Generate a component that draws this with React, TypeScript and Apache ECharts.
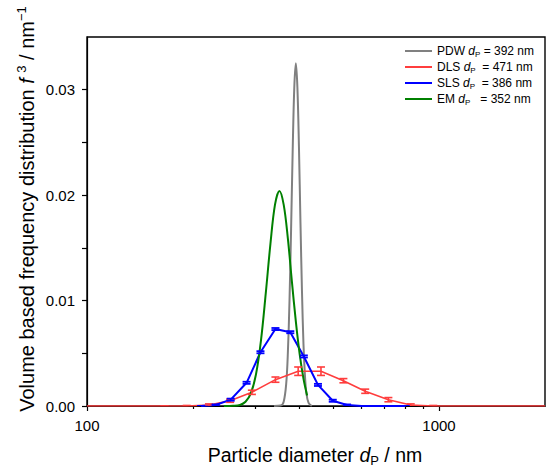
import React, { useEffect, useRef } from "react";
import * as echarts from "echarts";

// Particle diameter (nm) and volume-based frequency (nm^-1)
const pdwD = [340, 355, 362, 368, 372, 376, 380, 384, 388, 392, 396, 400, 404, 408, 412, 416, 420, 426, 435];
const pdwF = [0, 0.00004, 0.0004, 0.0021, 0.005, 0.0099, 0.0168, 0.0243, 0.0302, 0.0325, 0.0302, 0.0246, 0.0174, 0.0109, 0.0059, 0.0029, 0.0012, 0.0003, 0];

const dlsD = [100, 166, 192, 222, 255, 294, 343, 398, 462, 535, 617, 718, 831, 963, 2000];
const dlsF = [0, 0, 0, 0.0001, 0.0005, 0.0013, 0.0025, 0.0033, 0.0033, 0.0024, 0.0014, 0.0006, 0.0001, 0, 0];
const dlsErr = [0, 0, 0.00005, 0.0001, 0.00015, 0.0002, 0.00025, 0.0004, 0.0004, 0.0002, 0.0002, 0.0002, 0.0001, 0.00005, 0];

const slsD = [211, 232, 256, 284, 311, 343, 378, 413, 453, 499, 548, 603, 663, 730, 803];
const slsF = [0, 0.0001, 0.0006, 0.0022, 0.0051, 0.0073, 0.007, 0.0047, 0.002, 0.0005, 0.0001, 0, 0, 0, 0];
const slsErr = [0, 0.00005, 0.0001, 0.0001, 0.0001, 0.0001, 0.0001, 0.0001, 0.0001, 0.0001, 0.00005, 0, 0, 0, 0];

const emD = [245, 260, 272, 282, 292, 302, 312, 322, 332, 342, 352, 362, 372, 382, 392, 402, 412, 422];
const emF = [0, 0.00002, 0.0001, 0.0004, 0.0012, 0.003, 0.0062, 0.0107, 0.0154, 0.0191, 0.0204, 0.0191, 0.0159, 0.0118, 0.008, 0.0049, 0.0026, 0.001];

const xMajorTicks = [100, 1000];
const xMinorTicks = [200, 300, 400, 500, 600, 700, 800, 900];
const yLabels = [0, 0.01, 0.02, 0.03];
const yTicks = [0, 0.005, 0.01, 0.015, 0.02, 0.025, 0.03];

const legendNames = ["PDW", "DLS", "SLS", "EM"];
const legendTails: Record<string, string> = {
  PDW: " = 392 nm",
  DLS: "  = 471 nm",
  SLS: "  = 386 nm",
  EM: "   = 352 nm",
};

const FONT = "'Liberation Sans', Arial, Helvetica, sans-serif";
const C_GRAY = "#808080";
const C_RED = "#ff3d3d";
const C_BLUE = "#0000ff";
const C_GREEN = "#008000";

const pairs = (xs: number[], ys: number[]) => xs.map((x, i) => [x, ys[i]]);

function errSeries(name: string, color: string, xs: number[], ys: number[], es: number[], capW: number, lw: number) {
  return {
    type: "custom",
    name,
    z: 6,
    clip: true,
    data: xs.map((x, i) => [x, ys[i], es[i]]).filter((d) => d[0] > 100 && d[0] < 2000),
    renderItem: (_params: any, api: any) => {
      const x = api.value(0);
      const y = api.value(1);
      const e = api.value(2);
      const lo = Math.max(0, y - e);
      const p1 = api.coord([x, y + e]);
      const p2 = api.coord([x, lo]);
      const style = { stroke: color, lineWidth: lw };
      return {
        type: "group",
        children: [
          { type: "line", shape: { x1: p1[0], y1: p1[1], x2: p2[0], y2: p2[1] }, style },
          { type: "line", shape: { x1: p1[0] - capW, y1: p1[1], x2: p1[0] + capW, y2: p1[1] }, style },
          { type: "line", shape: { x1: p2[0] - capW, y1: p2[1], x2: p2[0] + capW, y2: p2[1] }, style },
        ],
      };
    },
  };
}

export default function App() {
  const ref = useRef<HTMLDivElement>(null);
  useEffect(() => {
    const chart = echarts.init(ref.current!, null, { renderer: "svg" });
    const axisText = { fontFamily: FONT, fontSize: 15, color: "#000" };
    const option: any = {
      animation: false,
      backgroundColor: "#fff",
      grid: { left: 87, right: 5, top: 37, bottom: 66, show: true, borderColor: "#000", borderWidth: 1.4, containLabel: false },
      xAxis: [
        {
          type: "log",
          logBase: 10,
          min: 100,
          max: 2000,
          position: "bottom",
          axisLine: { show: true, onZero: false, lineStyle: { color: "#000", width: 1.2 } },
          axisTick: { show: true, inside: false, length: 5, customValues: xMajorTicks, lineStyle: { color: "#000", width: 1.2 } },
          axisLabel: { ...axisText, margin: 12, customValues: xMajorTicks, formatter: (v: number) => String(v) },
          splitLine: { show: false },
          minorTick: { show: false },
        },
        {
          type: "log",
          logBase: 10,
          min: 100,
          max: 2000,
          position: "bottom",
          axisLine: { show: false },
          axisTick: { show: true, inside: false, length: 3, customValues: xMinorTicks, lineStyle: { color: "#000", width: 1.2 } },
          axisLabel: { show: false },
          splitLine: { show: false },
        },
      ],
      yAxis: {
        type: "value",
        min: 0,
        max: 0.035,
        axisLine: { show: true, onZero: false, lineStyle: { color: "#000", width: 1.2 } },
        axisTick: { show: true, inside: false, length: 5, customValues: yTicks, lineStyle: { color: "#000", width: 1.2 } },
        axisLabel: { ...axisText, margin: 12, customValues: yLabels, formatter: (v: number) => v.toFixed(2) },
        splitLine: { show: false },
      },
      legend: {
        data: legendNames,
        orient: "vertical",
        left: 405,
        top: 45,
        padding: 0,
        icon: "rect",
        itemWidth: 27,
        itemHeight: 2,
        itemGap: 3,
        textStyle: {
          fontFamily: FONT,
          fontSize: 12,
          color: "#000",
          rich: {
            n: { fontFamily: FONT, fontSize: 12, color: "#000", lineHeight: 14 },
            i: { fontFamily: FONT, fontSize: 12, fontStyle: "italic", color: "#000", lineHeight: 14 },
            s: { fontFamily: FONT, fontSize: 8, color: "#000", verticalAlign: "bottom", lineHeight: 8 },
          },
        },
        formatter: (name: string) => `{n|${name} }{i|d}{s|P}{n|${legendTails[name]}}`,
      },
      graphic: [
        {
          type: "text",
          x: 27,
          y: 209,
          rotation: Math.PI / 2,
          style: {
            text: "{t|Volume based frequency distribution }{it|f }{sp|3}{t| / nm}{sp|−1}",
            align: "center",
            verticalAlign: "middle",
            fill: "#000",
            fontFamily: FONT,
            fontSize: 20,
            rich: {
              t: { fontFamily: FONT, fontSize: 20, fill: "#000", lineHeight: 24 },
              it: { fontFamily: FONT, fontSize: 20, fontStyle: "italic", fill: "#000", lineHeight: 24 },
              sp: { fontFamily: FONT, fontSize: 13, fill: "#000", verticalAlign: "top", lineHeight: 14 },
            },
          },
        },
        {
          type: "text",
          x: 315,
          y: 455,
          style: {
            text: "{t|Particle diameter }{it|d}{sb|P}{t| / nm}",
            align: "center",
            verticalAlign: "middle",
            fill: "#000",
            fontFamily: FONT,
            fontSize: 19,
            rich: {
              t: { fontFamily: FONT, fontSize: 19.5, fill: "#000", lineHeight: 24 },
              it: { fontFamily: FONT, fontSize: 19.5, fontStyle: "italic", fill: "#000", lineHeight: 24 },
              sb: { fontFamily: FONT, fontSize: 13, fill: "#000", verticalAlign: "bottom", lineHeight: 14 },
            },
          },
        },
      ],
      series: [
        {
          name: "PDW",
          type: "line",
          data: pairs(pdwD, pdwF),
          symbol: "none",
          smooth: 0.35,
          z: 2,
          lineStyle: { color: C_GRAY, width: 2 },
          itemStyle: { color: C_GRAY },
        },
        {
          name: "DLS",
          type: "line",
          data: pairs(dlsD, dlsF),
          symbol: "none",
          z: 3,
          lineStyle: { color: C_RED, width: 1.6 },
          itemStyle: { color: C_RED },
        },
        {
          name: "SLS",
          type: "line",
          data: pairs(slsD, slsF),
          symbol: "none",
          z: 4,
          lineStyle: { color: C_BLUE, width: 2 },
          itemStyle: { color: C_BLUE },
        },
        {
          name: "EM",
          type: "line",
          data: pairs(emD, emF),
          symbol: "none",
          smooth: 0.35,
          z: 5,
          lineStyle: { color: C_GREEN, width: 2 },
          itemStyle: { color: C_GREEN },
        },
        errSeries("DLS err", C_RED, dlsD, dlsF, dlsErr, 4, 1.6),
        errSeries("SLS err", C_BLUE, slsD, slsF, slsErr, 4, 1.8),
      ],
    };
    chart.setOption(option);
    return () => chart.dispose();
  }, []);
  return <div ref={ref} style={{ position: "fixed", left: 0, top: 0, width: 550, height: 472, background: "#fff" }} />;
}
